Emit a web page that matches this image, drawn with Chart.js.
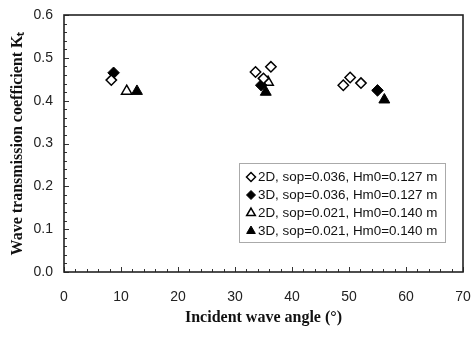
<!DOCTYPE html>
<html>
<head>
<meta charset="utf-8">
<script src="https://cdn.jsdelivr.net/npm/chart.js@4/dist/chart.umd.min.js"></script>
<style>
  html, body { margin: 0; padding: 0; background: #fff; }
  #wrap { width: 474px; height: 337px; }
</style>
</head>
<body>
<div id="wrap"><canvas id="ktChart" width="474" height="337"></canvas></div>
<script>
// values
const seriesLabels = [
    '2D, sop=0.036, Hm0=0.127 m',
    '3D, sop=0.036, Hm0=0.127 m',
    '2D, sop=0.021, Hm0=0.140 m',
    '3D, sop=0.021, Hm0=0.140 m'
];
const angle2D036 = [8.3, 33.6, 35.0, 36.3, 49.0, 50.2, 52.1];
const kt2D036    = [0.448, 0.467, 0.452, 0.479, 0.436, 0.454, 0.441];
const angle3D036 = [8.7, 34.6, 55.0];
const kt3D036    = [0.465, 0.436, 0.424];
const angle2D021 = [11.0, 35.8];
const kt2D021    = [0.422, 0.443];
const angle3D021 = [12.8, 35.4, 56.2];
const kt3D021    = [0.422, 0.420, 0.402];
const xTicks = [0, 10, 20, 30, 40, 50, 60, 70];
const yTicks = [0.0, 0.1, 0.2, 0.3, 0.4, 0.5, 0.6];

const toPts = (xs, ys) => xs.map((x, i) => ({ x: x, y: ys[i] }));

const styles = [
    { pointStyle: 'rectRot', pointRadius: 5.2, pointBackgroundColor: '#fff', pointBorderColor: '#000', pointBorderWidth: 1.5 },
    { pointStyle: 'rectRot', pointRadius: 5.8, pointBackgroundColor: '#000', pointBorderColor: '#000', pointBorderWidth: 1 },
    { pointStyle: 'triangle', pointRadius: 6, pointBackgroundColor: '#fff', pointBorderColor: '#000', pointBorderWidth: 1.5 },
    { pointStyle: 'triangle', pointRadius: 6.3, pointBackgroundColor: '#000', pointBorderColor: '#000', pointBorderWidth: 1 }
];

const datasets = [
    toPts(angle2D036, kt2D036),
    toPts(angle3D036, kt3D036),
    toPts(angle2D021, kt2D021),
    toPts(angle3D021, kt3D021)
].map((d, i) => Object.assign({ label: seriesLabels[i], data: d, showLine: false }, styles[i]));

// frame + inward ticks (major and minor)
const frameTicks = {
    id: 'frameTicks',
    afterDraw(chart) {
        const ctx = chart.ctx, a = chart.chartArea;
        const xs = chart.scales.x, ys = chart.scales.y;
        ctx.save();
        ctx.strokeStyle = '#333';
        ctx.lineWidth = 1;
        ctx.beginPath();
        for (let v = 0; v <= 70.001; v += 2) {
            const px = Math.round(xs.getPixelForValue(v)) + 0.5;
            const len = (Math.abs(v % 10) < 0.01) ? 5 : 3;
            ctx.moveTo(px, a.bottom); ctx.lineTo(px, a.bottom - len);
        }
        for (let v = 0; v <= 0.6001; v += 0.02) {
            const py = Math.round(ys.getPixelForValue(v)) + 0.5;
            const len = (Math.abs(Math.round(v * 100) % 10) < 0.5) ? 5 : 3;
            ctx.moveTo(a.left, py); ctx.lineTo(a.left + len, py);
        }
        ctx.stroke();
        ctx.strokeStyle = '#222';
        ctx.lineWidth = 1.6;
        ctx.strokeRect(a.left, a.top, a.right - a.left, a.bottom - a.top);
        ctx.restore();
    }
};

// legend box inside the plot
const boxLegend = {
    id: 'boxLegend',
    afterDraw(chart) {
        const ctx = chart.ctx;
        ctx.save();
        ctx.strokeStyle = '#aaa';
        ctx.lineWidth = 1;
        ctx.strokeRect(239.5, 163.5, 206, 79);
        ctx.font = '13.4px "Liberation Sans", Arial, sans-serif';
        ctx.textBaseline = 'middle';
        chart.data.datasets.forEach((ds, i) => {
            const y = 177 + i * 18;
            ctx.fillStyle = ds.pointBackgroundColor;
            ctx.strokeStyle = ds.pointBorderColor;
            ctx.lineWidth = ds.pointBorderWidth;
            Chart.helpers.drawPoint(ctx, { pointStyle: ds.pointStyle, radius: ds.pointStyle === 'triangle' ? 5 : 4.5, borderWidth: ds.pointBorderWidth }, 251, y);
            ctx.fillStyle = '#111';
            ctx.fillText(ds.label, 258, y + 0.5);
        });
        ctx.restore();
    }
};

new Chart(document.getElementById('ktChart').getContext('2d'), {
    type: 'scatter',
    data: { datasets: datasets },
    plugins: [frameTicks, boxLegend],
    options: {
        responsive: false,
        animation: false,
        layout: { padding: { top: 15, right: 11, left: 0, bottom: 0 } },
        plugins: { legend: { display: false }, tooltip: { enabled: false } },
        scales: {
            x: {
                type: 'linear', min: 0, max: 70,
                afterBuildTicks: s => { s.ticks = xTicks.map(v => ({ value: v })); },
                afterFit: s => { s.height = 65; s.paddingLeft = 0; s.paddingRight = 0; },
                grid: { display: false, drawTicks: false },
                border: { display: false },
                ticks: { padding: 17, color: '#222', font: { family: '"Liberation Sans", Arial', size: 14 } },
                title: {
                    display: true, text: 'Incident wave angle (°)', color: '#111',
                    font: { family: '"Liberation Serif", "Times New Roman", serif', size: 16, weight: 'bold' },
                    padding: { top: 0, bottom: 10 }
                }
            },
            y: {
                type: 'linear', min: 0, max: 0.6,
                afterBuildTicks: s => { s.ticks = yTicks.map(v => ({ value: v })); },
                afterFit: s => { s.width = 64; s.paddingTop = 0; s.paddingBottom = 0; },
                grid: { display: false, drawTicks: false },
                border: { display: false },
                ticks: { padding: 11, color: '#222', font: { family: '"Liberation Sans", Arial', size: 14 },
                         callback: v => Number(v).toFixed(1) },
                title: {
                    display: true, text: 'Wave transmission coefficient Kₜ', color: '#111',
                    font: { family: '"Liberation Serif", "Times New Roman", serif', size: 16, weight: 'bold' },
                    padding: { top: 8, bottom: 0 }
                }
            }
        }
    }
});
</script>
</body>
</html>
